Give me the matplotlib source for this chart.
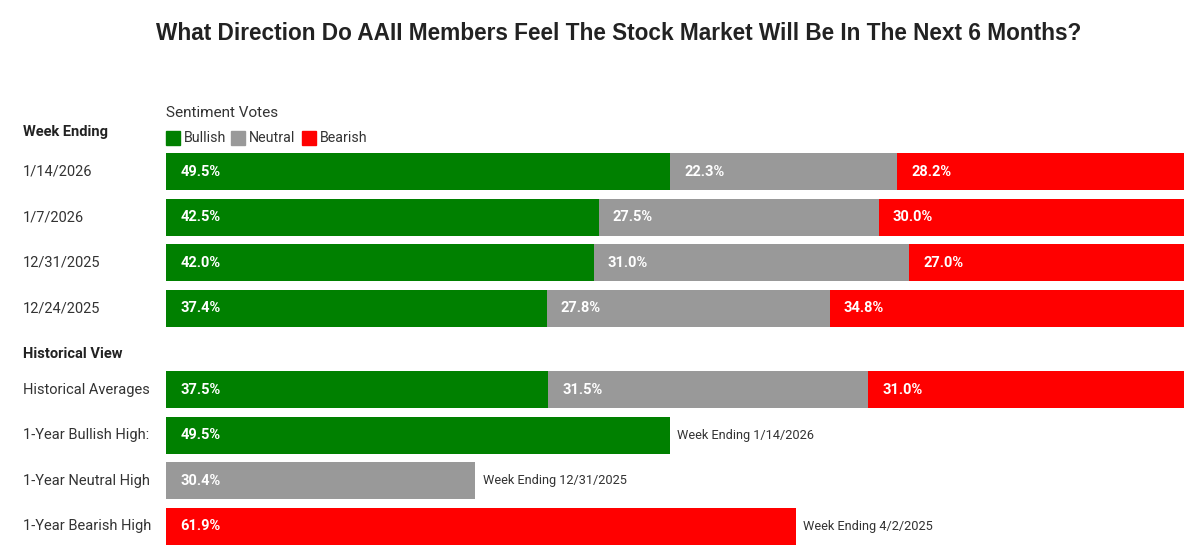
import matplotlib
matplotlib.use("Agg")
import matplotlib.pyplot as plt
from matplotlib.patches import Rectangle

weeks = ["1/14/2026", "1/7/2026", "12/31/2025", "12/24/2025"]
week_bullish = [49.5, 42.5, 42.0, 37.4]
week_neutral = [22.3, 27.5, 31.0, 27.8]
week_bearish = [28.2, 30.0, 27.0, 34.8]

hist_avg = [37.5, 31.5, 31.0]  # bullish, neutral, bearish

high_labels = ["1-Year Bullish High:", "1-Year Neutral High", "1-Year Bearish High"]
high_values = [49.5, 30.4, 61.9]
high_weeks = ["1/14/2026", "12/31/2025", "4/2/2025"]

GREEN = "#008000"
GRAY = "#999999"
RED = "#ff0000"
TXT = "#333333"
LABEL_FONT = ["Roboto", "DejaVu Sans"]
VAL_FONT = ["Liberation Sans Narrow", "Roboto", "DejaVu Sans"]

fig = plt.figure(figsize=(12, 5.57), dpi=100)
W, H = 1200, 557
ax = fig.add_axes([166 / W, (H - 545) / H, 1018 / W, (545 - 153) / H])
ax.set_xlim(0, 100)
ax.set_ylim(8.21, -0.41)
ax.axis("off")

bar_h = 0.815
week_pos = [0, 1, 2, 3]
hist_pos = 4.8
high_pos = [5.8, 6.8, 7.8]
colors = [GREEN, GRAY, RED]


def seg(y, left, width, color):
    ax.barh(y, width, left=left, height=bar_h, color=color, edgecolor="none")
    ax.text(left + 1.4, y, f"{width:.1f}%", color="white", fontsize=10.5,
            fontweight="bold", va="center", ha="left", family=VAL_FONT)


def row_label(y, text, bold=False, size=10.5):
    ax.text(-14.04, y, text, color=TXT if not bold else "#222222", fontsize=size,
            fontweight="bold" if bold else "normal", va="center", ha="left",
            family=LABEL_FONT, clip_on=False)


for y, name, b, n, r in zip(week_pos, weeks, week_bullish, week_neutral, week_bearish):
    row_label(y, name)
    left = 0
    for v, c in zip([b, n, r], colors):
        seg(y, left, v, c)
        left += v

row_label(hist_pos, "Historical Averages")
left = 0
for v, c in zip(hist_avg, colors):
    seg(hist_pos, left, v, c)
    left += v

for y, name, v, wk, c in zip(high_pos, high_labels, high_values, high_weeks, colors):
    row_label(y, name)
    seg(y, 0, v, c)
    ax.text(v + 0.7, y, f"Week Ending {wk}", color=TXT, fontsize=9.2,
            va="center", ha="left", family=VAL_FONT)

# section headers
row_label(-0.88, "Week Ending", bold=True, size=10.5)
row_label(4.0, "Historical View", bold=True, size=10.5)

# legend area
ax.text(0, -1.3, "Sentiment Votes", color=TXT, fontsize=11, va="center",
        ha="left", family=LABEL_FONT, clip_on=False)
leg = [("Bullish", GREEN, 0), ("Neutral", GRAY, 6.39), ("Bearish", RED, 13.36)]
for name, c, x0 in leg:
    ax.add_patch(Rectangle((x0, -0.59 - 0.3), 1.35, 0.31, color=c, clip_on=False))
    ax.text(x0 + 1.75, -0.74, name, color=TXT, fontsize=10.3, va="center",
            ha="left", family=LABEL_FONT, clip_on=False)

fig.text(619 / W, 1 - 33 / H,
         "What Direction Do AAII Members Feel The Stock Market Will Be In The Next 6 Months?",
         ha="center", va="center", fontsize=16.3, fontweight="bold",
         color="#222222", family=["Liberation Sans", "DejaVu Sans"])

fig.savefig("out.png", dpi=100)
